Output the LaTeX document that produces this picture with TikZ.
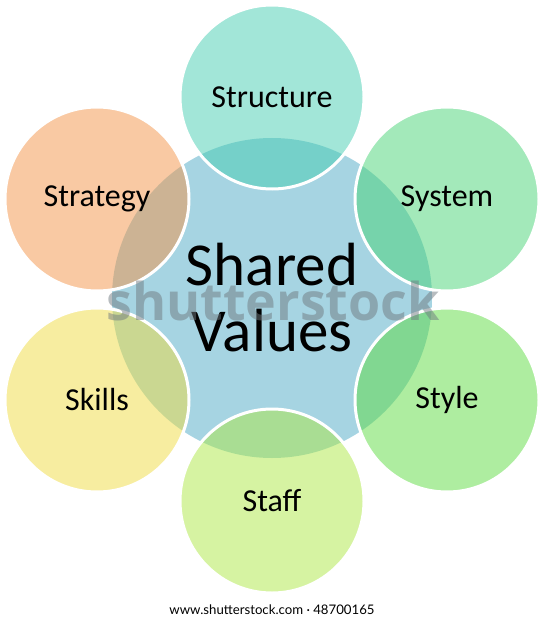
\documentclass[tikz,border=0pt]{standalone}
\usepackage{fontspec}
\setmainfont{Carlito}
\newfontfamily\footfont{Lato}
\newfontfamily\markfont{Open Sans}

\definecolor{sharedblue}{RGB}{166,212,226}
\definecolor{strategycol}{RGB}{243,147,71}
\definecolor{structurecol}{RGB}{69,205,177}
\definecolor{systemcol}{RGB}{71,211,117}
\definecolor{stylecol}{RGB}{93,219,65}
\definecolor{staffcol}{RGB}{173,231,69}
\definecolor{skillscol}{RGB}{239,219,65}
\definecolor{markgray}{RGB}{112,122,128}

\tikzset{
    petal/.style={circle, minimum size=92pt, inner sep=0pt, draw=white,
        line width=1.5pt, fill opacity=0.5, text opacity=1,
        font=\fontsize{16}{19}\selectfont},
    hub/.style={circle, minimum size=160pt, inner sep=0pt, fill=sharedblue,
        align=center, font=\fontsize{30.5}{33}\selectfont}
}

\begin{document}
\begin{tikzpicture}[x=0.5pt, y=-0.5pt]

    % Page frame
    \useasboundingbox (0,0) rectangle (544,620);

    % Centre circle
    \node[hub] (values) at (272,298) {Shared\\Values};

    % Six outer circles
    \node[petal, fill=structurecol] (structure) at (272,97)  {Structure};
    \node[petal, fill=systemcol]    (system)    at (447,199) {System};
    \node[petal, fill=stylecol]     (style)     at (447,400) {Style};
    \node[petal, fill=staffcol]     (staff)     at (272,501) {Staff};
    \node[petal, fill=skillscol]    (skills)    at (97,400)  {Skills};
    \node[petal, fill=strategycol]  (strategy)  at (97,199)  {Strategy};

    % Watermark and credit line
    \node[text=markgray, text opacity=0.5, font=\markfont\bfseries\fontsize{26}{30}\selectfont]
        (mark) at (273,301) {shutterstock};
    \node[font=\footfont\fontsize{6.6}{8}\selectfont] (credit) at (272,610)
        {www.shutterstock.com · 48700165};

\end{tikzpicture}
\end{document}
